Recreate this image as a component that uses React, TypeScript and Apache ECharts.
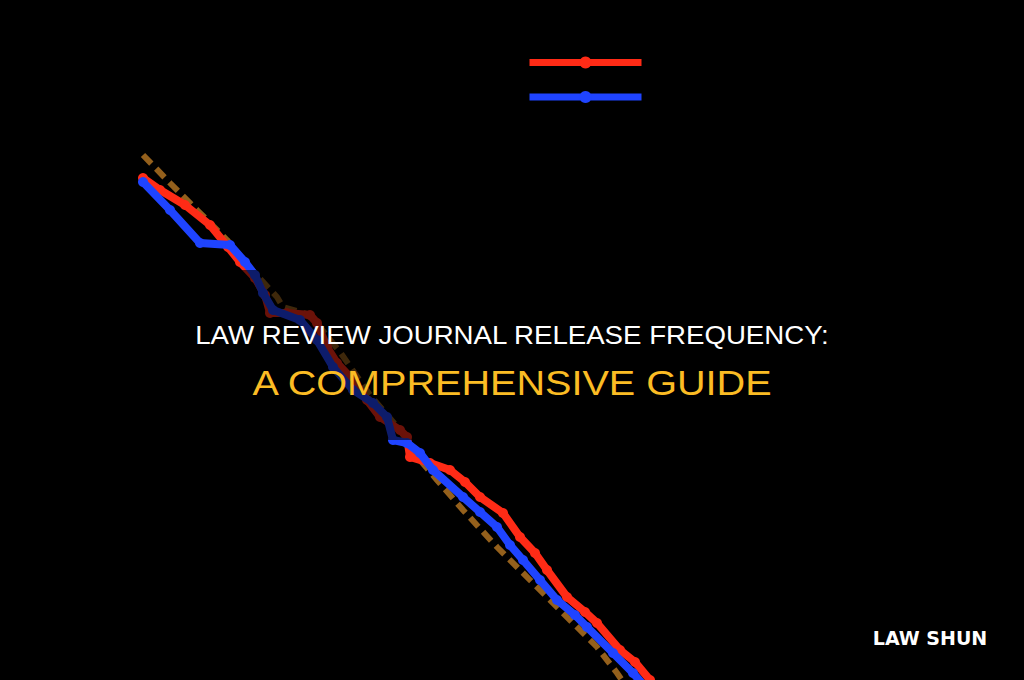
import React, { useEffect, useRef } from "react";
import * as echarts from "echarts";

// Series values: [x, y] in chart units
const seriesNames = ["Law review issues", "Journal releases", "Trend"];

const redSeries: [number, number][] = [
  [0, 100.4], [3.4, 98], [8.4, 95], [13.4, 91], [17, 86.6], [19.4, 83.6],
  [22.4, 80.4], [24.4, 77], [25.4, 73.4], [28.8, 73.4], [33.4, 73], [34.8, 71.4],
  [36.8, 66.6], [38.8, 63.4], [41.4, 60.6], [44.8, 56], [47.4, 52.6], [51.4, 50],
  [52.8, 48.6], [53.4, 44.6], [57.4, 43.4], [61.4, 42], [64.4, 39.6], [67.4, 36.6],
  [72, 33.4], [75.4, 28.6], [78.4, 25.4], [80.8, 22], [84.8, 16.6], [88.4, 13.6],
  [90.8, 11.4], [95.4, 6], [98.4, 3.6], [101.4, 0], [103, -2.4],
];

const blueSeries: [number, number][] = [
  [0, 99.6], [5.4, 94], [11.4, 87.4], [17.4, 87], [20.4, 83.6], [22.4, 81],
  [24, 77.4], [26, 74], [31.4, 72], [34.8, 68], [38, 62.6], [42, 58],
  [46, 55.4], [48.8, 52.6], [50, 48], [52.8, 47.4], [55.4, 45.4], [58, 42],
  [64, 36.6], [67.4, 33.6], [70.8, 30.6], [73.4, 27], [76, 24], [79.4, 20],
  [82.8, 16], [86.4, 13], [88.8, 10.6], [94, 5.4], [98, 1.4], [101, -2],
];

const trendSeries: [number, number][] = [
  [0, 105], [5.4, 99.4], [10.8, 94], [16.8, 88], [21.4, 82.4], [26.8, 76.6],
  [28, 74.6], [33.4, 73], [39.4, 65.6], [45.4, 57], [51.4, 50], [55.4, 44],
  [58.8, 40], [64, 34], [70.8, 26.6], [77.4, 20], [84, 13.4], [90.8, 6.6],
  [94.8, 1.4], [97.4, -2.4],
];

const titleLine1 = "LAW REVIEW JOURNAL RELEASE FREQUENCY:";
const titleLine2 = "A COMPREHENSIVE GUIDE";
const watermark = "LAW SHUN";

export default function App() {
  const ref = useRef<HTMLDivElement>(null);

  useEffect(() => {
    document.body.style.margin = "0";
    document.body.style.background = "#000";
    if (!ref.current) return;
    const chart = echarts.init(ref.current, undefined, { renderer: "svg" });
    chart.setOption({
      animation: false,
      backgroundColor: "#000",
      legend: {
        orient: "vertical",
        left: 526,
        top: 55,
        itemWidth: 112,
        itemHeight: 15,
        itemGap: 21,
        data: [seriesNames[0], seriesNames[1]],
        formatter: () => "",
        textStyle: { color: "#000", fontSize: 1 },
        lineStyle: { width: 7 },
        padding: 0,
      },
      grid: { left: 143, right: 281, top: 130, bottom: 0 },
      xAxis: { type: "value", min: 0, max: 120, show: false },
      yAxis: { type: "value", min: 0, max: 110, show: false },
      series: [
        {
          name: seriesNames[2],
          type: "line",
          data: trendSeries,
          showSymbol: false,
          symbol: "none",
          lineStyle: { color: "#94601c", width: 6, type: [12, 7] },
          itemStyle: { color: "#94601c" },
          z: 1,
        },
        {
          name: seriesNames[1],
          type: "line",
          data: blueSeries,
          symbol: "circle",
          symbolSize: 10,
          lineStyle: { color: "#1f44ff", width: 8 },
          itemStyle: { color: "#1f44ff" },
          z: 3,
        },
        {
          name: seriesNames[0],
          type: "line",
          data: redSeries,
          symbol: "circle",
          symbolSize: 10,
          lineStyle: { color: "#ff2b16", width: 8 },
          itemStyle: { color: "#ff2b16" },
          z: 2,
        },
      ],
      graphic: [
        {
          type: "rect",
          z: 100,
          shape: { x: 0, y: 270, width: 1024, height: 170 },
          style: { fill: "rgba(0,0,0,0.58)" },
          silent: true,
        },
        {
          type: "text",
          z: 101,
          x: 512,
          y: 335,
          scaleX: 1.08,
          style: {
            text: titleLine1,
            fill: "#ffffff",
            font: "25.6px 'Liberation Sans', Arial, sans-serif",
            textAlign: "center",
            textVerticalAlign: "middle",
          },
        },
        {
          type: "text",
          z: 101,
          x: 512,
          y: 383,
          scaleX: 1.1,
          style: {
            text: titleLine2,
            fill: "#fbbc24",
            font: "36px 'Liberation Sans', Arial, sans-serif",
            textAlign: "center",
            textVerticalAlign: "middle",
          },
        },
        {
          type: "text",
          z: 101,
          x: 930,
          y: 638,
          style: {
            text: watermark,
            fill: "#ffffff",
            font: "bold 19px 'DejaVu Sans', sans-serif",
            textAlign: "center",
            textVerticalAlign: "middle",
          },
        },
      ],
    });
    return () => chart.dispose();
  }, []);

  return <div ref={ref} style={{ width: 1024, height: 680 }} />;
}
